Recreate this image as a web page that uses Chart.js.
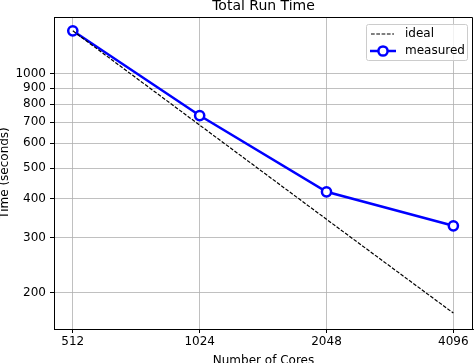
<!DOCTYPE html>
<html>
<head>
<meta charset="utf-8">
<script src="https://cdn.jsdelivr.net/npm/chart.js@4"></script>
<style>
  html, body { margin: 0; padding: 0; background: #fff; overflow: hidden; }
  #wrap { width: 474px; height: 363px; }
</style>
</head>
<body>
<div id="wrap"><canvas id="runTimeChart" width="474" height="363"></canvas></div>
<script>
// values
const cores = [512, 1024, 2048, 4096];
const idealTime = [1373, 686, 343, 172];
const measuredTime = [1373, 736, 420, 327];
const yTickValues = [200, 300, 400, 500, 600, 700, 800, 900, 1000];

const FONT = 'DejaVu Sans';

// title, axis labels, legend and the top/right frame lines
const extras = {
  id: 'extras',
  afterDraw(chart) {
    const ctx = chart.ctx;
    const a = chart.chartArea;
    const cx = (a.left + a.right) / 2;
    ctx.save();
    ctx.strokeStyle = '#000';
    ctx.lineWidth = 1;
    ctx.beginPath();
    ctx.moveTo(a.left, a.top + 0.5);
    ctx.lineTo(a.right - 0.5, a.top + 0.5);
    ctx.lineTo(a.right - 0.5, a.bottom);
    ctx.stroke();

    ctx.fillStyle = '#000';
    ctx.textAlign = 'center';
    ctx.textBaseline = 'alphabetic';
    ctx.font = '14px "' + FONT + '"';
    ctx.fillText('Total Run Time', cx, 10);
    ctx.font = '12px "' + FONT + '"';
    ctx.fillText('Number of Cores', cx, 364);
    ctx.save();
    ctx.translate(8, (a.top + a.bottom) / 2);
    ctx.rotate(-Math.PI / 2);
    ctx.fillText('Time (seconds)', 0, 0);
    ctx.restore();

    // legend
    ctx.fillStyle = 'rgba(255,255,255,0.8)';
    ctx.strokeStyle = '#cccccc';
    ctx.lineWidth = 1;
    ctx.beginPath();
    ctx.roundRect(366.5, 24.5, 101, 36, 2);
    ctx.fill();
    ctx.stroke();
    ctx.strokeStyle = '#000';
    ctx.lineWidth = 1.2;
    ctx.setLineDash([3.7, 1.6]);
    ctx.beginPath();
    ctx.moveTo(371, 34);
    ctx.lineTo(394, 34);
    ctx.stroke();
    ctx.setLineDash([]);
    ctx.strokeStyle = '#0000ff';
    ctx.lineWidth = 2.5;
    ctx.beginPath();
    ctx.moveTo(370, 51);
    ctx.lineTo(396, 51);
    ctx.stroke();
    ctx.fillStyle = '#fff';
    ctx.beginPath();
    ctx.arc(383, 51, 4.6, 0, Math.PI * 2);
    ctx.fill();
    ctx.stroke();
    ctx.fillStyle = '#000';
    ctx.textAlign = 'left';
    ctx.textBaseline = 'middle';
    ctx.font = '12px "' + FONT + '"';
    ctx.fillText('ideal', 405, 34);
    ctx.fillText('measured', 405, 51);
    ctx.restore();
  }
};

new Chart(document.getElementById('runTimeChart'), {
  type: 'line',
  data: {
    labels: cores,
    datasets: [{
      label: 'ideal',
      data: cores.map((c, i) => ({ x: c, y: idealTime[i] })),
      borderColor: '#000',
      borderWidth: 1.2,
      borderDash: [3.7, 1.6],
      pointRadius: 0,
      fill: false,
      tension: 0
    }, {
      label: 'measured',
      data: cores.map((c, i) => ({ x: c, y: measuredTime[i] })),
      borderColor: '#0000ff',
      borderWidth: 2.5,
      pointRadius: 4.6,
      pointBorderWidth: 2.5,
      pointBackgroundColor: '#fff',
      pointBorderColor: '#0000ff',
      fill: false,
      tension: 0
    }]
  },
  options: {
    responsive: false,
    animation: false,
    layout: { autoPadding: false, padding: { top: 17, right: 1, left: 0, bottom: 0 } },
    plugins: { legend: { display: false }, tooltip: { enabled: false } },
    scales: {
      x: {
        type: 'logarithmic',
        min: 462,
        max: 4560,
        afterBuildTicks: s => { s.ticks = cores.map(v => ({ value: v })); },
        afterFit: s => { s.height = 34; s.paddingLeft = 0; s.paddingRight = 0; },
        ticks: {
          color: '#000',
          font: { family: FONT, size: 12 },
          padding: 2,
          maxRotation: 0,
          callback: v => String(v)
        },
        grid: { color: '#b0b0b0', lineWidth: 0.8, tickLength: 4, tickColor: '#000', tickWidth: 1 },
        border: { color: '#000', width: 1 }
      },
      y: {
        type: 'logarithmic',
        min: 153,
        max: 1520,
        afterBuildTicks: s => { s.ticks = yTickValues.map(v => ({ value: v })); },
        afterFit: s => { s.width = 54; s.paddingTop = 0; s.paddingBottom = 0; },
        ticks: {
          color: '#000',
          font: { family: FONT, size: 12 },
          padding: 4,
          callback: v => String(v)
        },
        grid: { color: '#b0b0b0', lineWidth: 0.8, tickLength: 4, tickColor: '#000', tickWidth: 1 },
        border: { color: '#000', width: 1 }
      }
    }
  },
  plugins: [extras]
});
</script>
</body>
</html>
